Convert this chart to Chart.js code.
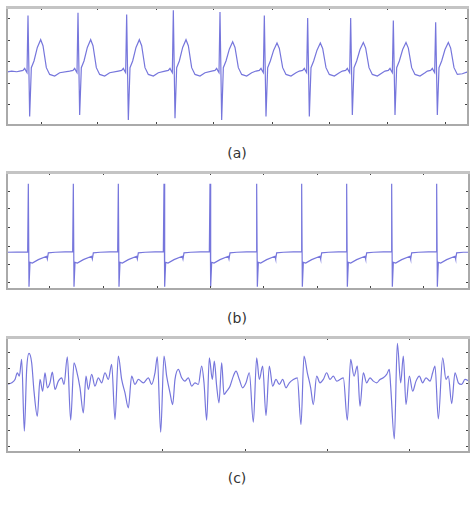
<!DOCTYPE html>
<html><head><meta charset="utf-8">
<script src="https://cdn.jsdelivr.net/npm/chart.js@4"></script>
<style>
body{margin:0;background:#fff;width:474px;height:515px;position:relative;overflow:hidden;font-family:"DejaVu Sans",sans-serif}
.p{position:absolute}
.lab{position:absolute;width:474px;text-align:center;font-size:14px;color:#333}
</style></head><body>
<div class="p" style="left:6px;top:6px;width:463px;height:120px"><canvas id="ca"></canvas></div>
<div class="p" style="left:6px;top:171px;width:464px;height:119px"><canvas id="cb"></canvas></div>
<div class="p" style="left:6px;top:336px;width:464px;height:117px"><canvas id="cc"></canvas></div>
<div class="lab" style="top:145px">(a)</div>
<div class="lab" style="top:310px">(b)</div>
<div class="lab" style="top:470px">(c)</div>
<script>
// Panel (a): ECG signal [sample, amplitude]
const signalA = [[18,-3],[35,0],[50,-2],
[59,0],[69,2],[74,8],[78,0],[81,-5],[84,165],[89,-135],[94,10],[102,30],[112,70],[122,93],[129,75],[139,10],[149,-10],[164,-15],[179,-5],
[209,0],[219,2],[224,8],[228,0],[231,-5],[234,173],[239,-130],[244,10],[252,30],[262,70],[272,93],[279,75],[289,10],[299,-10],[314,-15],[329,-5],
[355,0],[365,2],[370,8],[374,0],[377,-5],[380,168],[385,-145],[390,10],[398,30],[408,70],[418,93],[425,75],[435,10],[445,-10],[460,-15],[475,-5],
[495,0],[505,2],[510,8],[514,0],[517,-5],[520,180],[525,-140],[530,10],[538,30],[548,70],[558,93],[565,75],[575,10],[585,-10],[600,-15],[615,-5],
[635,0],[645,2],[650,8],[654,0],[657,-5],[660,175],[665,-145],[670,10],[678,30],[688,65],[698,87],[705,70],[715,10],[725,-10],[740,-15],[755,-5],
[768,0],[778,2],[783,8],[787,0],[790,-5],[793,165],[798,-135],[803,10],[811,30],[821,62],[831,83],[838,67],[848,10],[858,-10],[873,-15],[888,-5],
[898,0],[908,2],[913,8],[917,0],[920,-5],[923,157],[928,-135],[933,10],[941,30],[951,62],[961,83],[968,67],[978,10],[988,-10],[1003,-15],[1018,-5],
[1027,0],[1037,2],[1042,8],[1046,0],[1049,-5],[1052,157],[1057,-130],[1062,10],[1070,30],[1080,64],[1090,85],[1097,68],[1107,10],[1117,-10],[1132,-15],[1147,-5],
[1155,0],[1165,2],[1170,8],[1174,0],[1177,-5],[1180,150],[1185,-130],[1190,10],[1198,30],[1208,64],[1218,85],[1225,68],[1235,10],[1245,-10],[1260,-15],[1275,-5],
[1282,0],[1292,2],[1297,8],[1301,0],[1304,-5],[1307,145],[1312,-130],[1317,10],[1325,30],[1335,64],[1345,85],[1352,68],[1362,10],[1372,-10],[1387,-8],[1400,-3],[1407,-5]];
const xTicksA = [122,292,467,640,815,988,1160,1335];
const yTicksA = [157,91,29,-35,-99];

// Panel (b)
const signalB = [[18,0],
[83,1],[85,203],[87,-102],[90,-30],[97,-32],[115,-22],[140,-12],[142,-20],[145,-2],[165,0],[195,1],
[218,1],[220,203],[222,-102],[225,-30],[232,-32],[250,-22],[275,-12],[277,-20],[280,-2],[300,0],[330,1],
[353,1],[355,203],[357,-102],[360,-30],[367,-32],[385,-22],[410,-12],[412,-20],[415,-2],[435,0],[465,1],
[490,1],[492,203],[494,-102],[497,-30],[504,-32],[522,-22],[547,-12],[549,-20],[552,-2],[572,0],[602,1],
[628,1],[630,203],[632,-102],[635,-30],[642,-32],[660,-22],[685,-12],[687,-20],[690,-2],[710,0],[740,1],
[768,1],[770,203],[772,-102],[775,-30],[782,-32],[800,-22],[825,-12],[827,-20],[830,-2],[850,0],[880,1],
[903,1],[905,203],[907,-102],[910,-30],[917,-32],[935,-22],[960,-12],[962,-20],[965,-2],[985,0],[1015,1],
[1038,1],[1040,203],[1042,-102],[1045,-30],[1052,-32],[1070,-22],[1095,-12],[1097,-20],[1100,-2],[1120,0],[1150,1],
[1173,1],[1175,203],[1177,-102],[1180,-30],[1187,-32],[1205,-22],[1230,-12],[1232,-20],[1235,-2],[1255,0],[1285,1],
[1308,1],[1310,203],[1312,-102],[1315,-30],[1322,-32],[1340,-22],[1365,-12],[1367,-20],[1370,-2],[1390,0],[1410,0]];
const xTicksB = [148,308,470,630,790,950,1110,1270];
const yTicksB = [183,130,76,20,-35,-89];

// Panel (c)
const signalC = [[20,-5],[35,0],[45,10],[52,30],[58,20],[65,70],[73,-145],[80,40],[87,88],[95,60],[102,-25],[112,-100],[120,10],[128,-25],[135,30],[142,-15],[150,0],[157,32],[165,-20],[175,5],[185,15],[192,-5],[202,78],[212,-112],[222,60],[230,35],[240,-15],[250,-90],[258,20],[265,-20],[275,25],[285,-10],[295,15],[305,0],[315,30],[325,10],[335,55],[345,-110],[355,80],[365,10],[375,-30],[385,-75],[395,20],[405,-5],[415,10],[430,0],[445,15],[455,-5],[465,30],[472,78],[482,-148],[492,80],[500,20],[510,-30],[518,-65],[525,10],[535,40],[545,15],[555,5],[565,15],[575,-10],[585,0],[595,-5],[605,50],[612,0],[620,-112],[628,75],[637,10],[643,65],[650,-10],[657,-60],[665,60],[672,-35],[680,-25],[690,-10],[700,20],[708,35],[718,10],[728,-15],[738,0],[748,30],[760,-118],[770,75],[778,10],[788,50],[798,-98],[808,50],[818,-10],[828,10],[838,-5],[848,10],[858,-15],[868,0],[880,10],[892,15],[903,-125],[912,80],[922,30],[932,-15],[940,-65],[950,20],[960,0],[970,10],[980,30],[990,10],[1000,20],[1010,5],[1020,10],[1030,15],[1042,-112],[1052,70],[1062,20],[1072,50],[1080,-70],[1090,30],[1100,0],[1110,15],[1120,5],[1130,0],[1140,10],[1150,15],[1160,25],[1168,40],[1172,-10],[1183,-168],[1192,118],[1202,0],[1210,80],[1218,-65],[1228,20],[1238,-25],[1248,5],[1258,20],[1268,0],[1278,15],[1290,5],[1298,30],[1305,50],[1315,-108],[1328,75],[1338,10],[1345,20],[1355,-62],[1365,30],[1375,0],[1385,-5],[1395,10],[1408,5]];
const xTicksC = [237,485,735,980,1228];
const yTicksC = [92,45,0,-47,-95,-142,-190];

const frame = {
  id:'frame',
  afterDraw(ch, a, o){
    const c=ch.ctx, ar=ch.chartArea, xs=ch.scales.x, ys=ch.scales.y;
    c.save();
    c.strokeStyle='#444'; c.lineWidth=1;
    const L=4;
    o.xt.forEach(v=>{const p=Math.round(xs.getPixelForValue(v))+0.5;
      c.beginPath();c.moveTo(p,ar.top);c.lineTo(p,ar.top+L);c.moveTo(p,ar.bottom);c.lineTo(p,ar.bottom-L);c.stroke();});
    o.yt.forEach(v=>{const p=Math.round(ys.getPixelForValue(v))+0.5;
      c.beginPath();c.moveTo(ar.left,p);c.lineTo(ar.left+L,p);c.moveTo(ar.right,p);c.lineTo(ar.right-L,p);c.stroke();});
    c.strokeStyle='#aaa'; c.lineWidth=2;
    c.strokeRect(ar.left+1,ar.top+1,ar.right-ar.left-2,ar.bottom-ar.top-2);
    c.fillStyle='#c4c4c4'; c.fillRect(ar.left,ar.top,ar.right-ar.left,3);
    c.restore();
  }
};

function make(id, data, xmin, xmax, ymin, ymax, xt, yt, mode){
  new Chart(document.getElementById(id), {
    type:'line',
    data:{datasets:[{data:data.map(p=>({x:p[0],y:p[1]})),borderColor:'#7676dc',borderWidth:1.2,pointRadius:0,
      cubicInterpolationMode:mode, tension:0}]},
    options:{responsive:true,maintainAspectRatio:false,animation:false,
      layout:{padding:0},
      plugins:{legend:{display:false},tooltip:{enabled:false},frame:{xt:xt,yt:yt}},
      scales:{x:{type:'linear',min:xmin,max:xmax,display:false},y:{min:ymin,max:ymax,display:false}}},
    plugins:[frame]
  });
}
make('ca', signalA, 18, 1407, -163, 193, xTicksA, yTicksA, 'default');
make('cb', signalB, 18, 1410, -112, 241, xTicksB, yTicksB, 'default');
make('cc', signalC, 18, 1410, -210, 140, xTicksC, yTicksC, 'monotone');
</script></body></html>
